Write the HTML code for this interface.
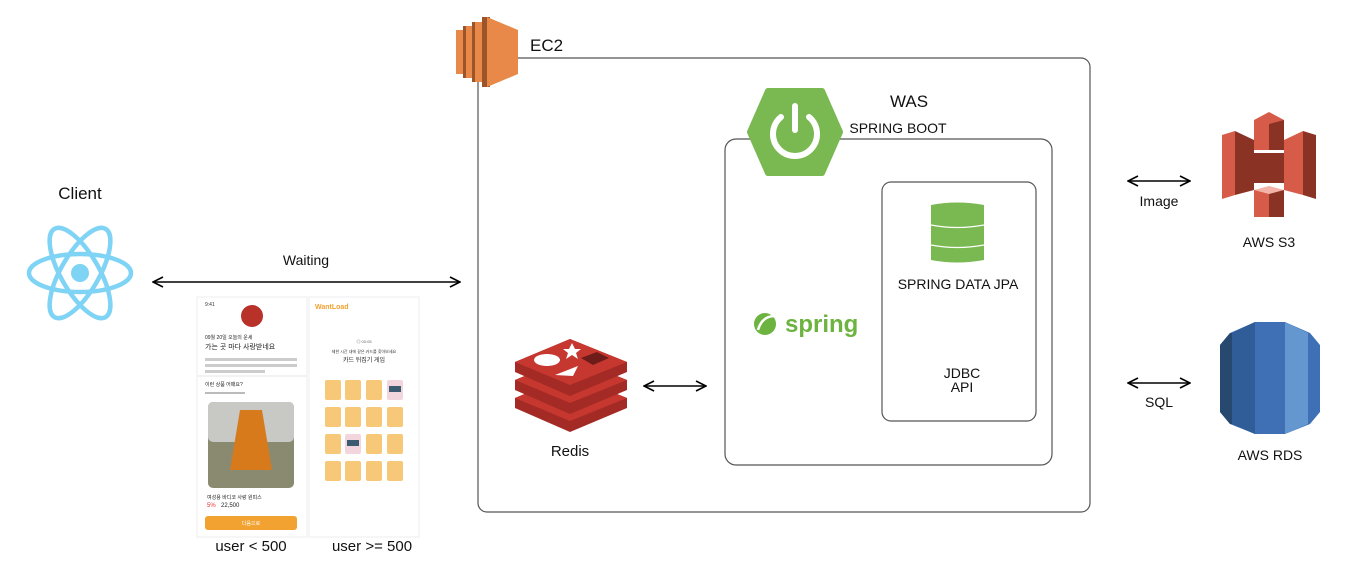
<!DOCTYPE html>
<html><head><meta charset="utf-8"><style>
html,body{margin:0;padding:0;background:#fff;}
svg{display:block;font-family:"Liberation Sans","Noto Sans CJK KR",sans-serif;}
</style></head><body>
<svg width="1358" height="572" viewBox="0 0 1358 572" xmlns="http://www.w3.org/2000/svg">
<defs>
<marker id="ah" viewBox="0 0 12 12" refX="11" refY="6" markerWidth="12" markerHeight="12" markerUnits="userSpaceOnUse" orient="auto-start-reverse"><path d="M1 1 L11 6 L1 11" fill="none" stroke="#000" stroke-width="1.6"/></marker>
</defs>
<!-- EC2 box -->
<rect x="478" y="58" width="612" height="454" rx="9" fill="none" stroke="#555" stroke-width="1.2"/>
<!-- EC2 icon -->
<g>
<rect x="456" y="30" width="10" height="44" fill="#e8894a"/>
<rect x="463" y="26" width="10" height="52" fill="#9c5429"/>
<rect x="466" y="26" width="8" height="52" fill="#e8894a"/>
<rect x="472" y="22" width="10" height="60" fill="#9c5429"/>
<rect x="475" y="22" width="8" height="60" fill="#e8894a"/>
<rect x="482" y="17" width="8" height="70" fill="#9c5429"/>
<polygon points="487,17 518,30 518,74 487,87" fill="#e8894a"/>
</g>
<text x="530" y="51" font-size="17" fill="#111">EC2</text>
<!-- WAS box -->
<rect x="725" y="139" width="327" height="326" rx="11" fill="#fff" stroke="#555" stroke-width="1.2"/>
<polygon points="768,91 822,91 840,132 822,173 768,173 750,132" fill="#7ab851" stroke="#7ab851" stroke-width="6" stroke-linejoin="round"/>
<path d="M781,117 A22,22 0 1 0 809,117" fill="none" stroke="#fff" stroke-width="6" stroke-linecap="round"/>
<line x1="795" y1="106" x2="795" y2="130" stroke="#fff" stroke-width="6" stroke-linecap="round"/>
<text x="909" y="107" font-size="17" text-anchor="middle" fill="#111">WAS</text>
<text x="898" y="133" font-size="14" text-anchor="middle" fill="#111">SPRING BOOT</text>
<!-- spring logo -->
<circle cx="765" cy="324" r="11" fill="#6db33f"/>
<path d="M758,330 Q762,316 775,316" stroke="#fff" stroke-width="2.5" fill="none"/>
<text x="785" y="332" font-size="24" fill="#6db33f" font-weight="bold">spring</text>
<!-- JPA box -->
<rect x="882" y="182" width="154" height="239" rx="9" fill="#fff" stroke="#555" stroke-width="1.2"/>
<path d="M931,205 Q957,200 984,205 L984,260 Q957,265 931,260 Z" fill="#7ab851"/>
<path d="M931,225 Q957,230 984,225 M931,245 Q957,250 984,245" stroke="#fff" stroke-width="1.2" fill="none"/>
<text x="958" y="289" font-size="14" text-anchor="middle" fill="#111">SPRING DATA JPA</text>
<text x="962" y="378" font-size="14" text-anchor="middle" fill="#111">JDBC</text>
<text x="962" y="392" font-size="14" text-anchor="middle" fill="#111">API</text>
<!-- Redis -->
<g>
<path d="M515,398 L570,375 L627,398 L627,408 L570,432 L515,408 Z" fill="#a32a25"/>
<path d="M515,398 L570,421 L627,398 L570,375 Z" fill="#c6372f"/>
<path d="M515,380 L570,357 L627,380 L627,390 L570,414 L515,390 Z" fill="#a32a25"/>
<path d="M515,380 L570,403 L627,380 L570,357 Z" fill="#c6372f"/>
<path d="M515,362 L570,339 L627,362 L627,372 L570,396 L515,372 Z" fill="#a32a25"/>
<path d="M515,362 L570,385 L627,362 L570,339 Z" fill="#c6372f"/>
<ellipse cx="547" cy="360" rx="13" ry="6" fill="#fff"/>
<polygon points="572,343 575,349 581,349 576,353 578,359 572,355 566,359 568,353 563,349 569,349" fill="#fff"/>
<polygon points="555,375 578,366 573,376" fill="#fff"/>
<polygon points="581,358 597,352 609,358 593,365" fill="#6d1c19"/>
</g>
<text x="570" y="456" font-size="15" text-anchor="middle" fill="#111">Redis</text>
<line x1="644" y1="386" x2="706" y2="386" stroke="#000" stroke-width="1.6" marker-start="url(#ah)" marker-end="url(#ah)"/>
<!-- Client -->
<text x="80" y="199" font-size="17" text-anchor="middle" fill="#111">Client</text>
<g fill="none" stroke="#7fd3f4" stroke-width="4.5">
<ellipse cx="80" cy="273" rx="51" ry="19"/>
<ellipse cx="80" cy="273" rx="51" ry="19" transform="rotate(60 80 273)"/>
<ellipse cx="80" cy="273" rx="51" ry="19" transform="rotate(-60 80 273)"/>
</g>
<circle cx="80" cy="273" r="9" fill="#7fd3f4"/>
<line x1="153" y1="282" x2="460" y2="282" stroke="#000" stroke-width="1.6" marker-start="url(#ah)" marker-end="url(#ah)"/>
<text x="306" y="265" font-size="14" text-anchor="middle" fill="#111">Waiting</text>
<!-- Screenshot left -->
<rect x="197" y="297" width="110" height="240" fill="#fff" stroke="#eee"/>
<text x="205" y="306" font-size="5" fill="#333">9:41</text>
<circle cx="252" cy="316" r="11" fill="#b8322a"/>
<text x="205" y="339" font-size="5" fill="#222">09월 20일 오늘의 운세</text>
<text x="205" y="349" font-size="7" fill="#222">가는 곳 마다 사랑받네요</text>
<rect x="205" y="358" width="92" height="3" fill="#ccc"/><rect x="205" y="364" width="92" height="3" fill="#ccc"/><rect x="205" y="370" width="60" height="3" fill="#ccc"/>
<rect x="197" y="375" width="110" height="2" fill="#f2f2f2"/>
<text x="205" y="386" font-size="5" fill="#222">이런 상품 어때요?</text>
<rect x="205" y="392" width="40" height="2" fill="#bbb"/>
<rect x="208" y="402" width="86" height="86" rx="5" fill="#8a8a70"/>
<rect x="208" y="402" width="86" height="40" rx="5" fill="#c8c8c4"/>
<path d="M240,410 L262,410 L272,470 L230,470 Z" fill="#d77a1c"/>
<text x="207" y="499" font-size="5" fill="#222">여성용 바디코 사랑 원피스</text>
<text x="207" y="507" font-size="6" fill="#e33">5%</text><text x="221" y="507" font-size="6" fill="#222">22,500</text>
<rect x="205" y="516" width="92" height="14" rx="3" fill="#f2a230"/>
<text x="251" y="525" font-size="5" fill="#fff" text-anchor="middle">다음으로</text>
<!-- Screenshot right -->
<rect x="309" y="297" width="110" height="240" fill="#fff" stroke="#eee"/>
<text x="315" y="309" font-size="7" font-weight="bold" fill="#f2a230">WantLoad</text>
<text x="364" y="343" font-size="4" fill="#666" text-anchor="middle">◎ 00:05</text>
<text x="364" y="353" font-size="4" fill="#333" text-anchor="middle">제한 시간 내에 같은 카드를 찾아보세요</text>
<text x="364" y="362" font-size="6" fill="#222" text-anchor="middle">카드 뒤집기 게임</text>
<g fill="#f7c877">
<rect x="325" y="380" width="16" height="20" rx="2"/><rect x="345" y="380" width="16" height="20" rx="2"/><rect x="366" y="380" width="16" height="20" rx="2"/><rect x="387" y="380" width="16" height="20" rx="2" fill="#f3d6dd"/>
<rect x="325" y="407" width="16" height="20" rx="2"/><rect x="345" y="407" width="16" height="20" rx="2"/><rect x="366" y="407" width="16" height="20" rx="2"/><rect x="387" y="407" width="16" height="20" rx="2"/>
<rect x="325" y="434" width="16" height="20" rx="2"/><rect x="345" y="434" width="16" height="20" rx="2" fill="#f3d6dd"/><rect x="366" y="434" width="16" height="20" rx="2"/><rect x="387" y="434" width="16" height="20" rx="2"/>
<rect x="325" y="461" width="16" height="20" rx="2"/><rect x="345" y="461" width="16" height="20" rx="2"/><rect x="366" y="461" width="16" height="20" rx="2"/><rect x="387" y="461" width="16" height="20" rx="2"/>
</g>
<rect x="389" y="386" width="12" height="6" fill="#3c5a70"/><rect x="347" y="440" width="12" height="6" fill="#3c5a70"/>
<text x="251" y="551" font-size="15" text-anchor="middle" fill="#111">user &lt; 500</text>
<text x="372" y="551" font-size="15" text-anchor="middle" fill="#111">user &gt;= 500</text>
<!-- S3 -->
<line x1="1128" y1="181" x2="1190" y2="181" stroke="#000" stroke-width="1.6" marker-start="url(#ah)" marker-end="url(#ah)"/>
<text x="1159" y="206" font-size="14" text-anchor="middle" fill="#111">Image</text>
<g>
<polygon points="1222,135 1235,131 1235,195 1222,199" fill="#d65c49"/>
<polygon points="1235,131 1254,140 1254,190 1235,195" fill="#8a3325"/>
<polygon points="1316,135 1303,131 1303,195 1316,199" fill="#8a3325"/>
<polygon points="1303,131 1284,140 1284,190 1303,195" fill="#d65c49"/>
<rect x="1254" y="120" width="15" height="30" fill="#d65c49"/><rect x="1269" y="120" width="15" height="30" fill="#8a3325"/>
<polygon points="1254,120 1269,112 1284,120 1269,124" fill="#d65c49"/>
<rect x="1254" y="153" width="15" height="30" fill="#8a3325"/><rect x="1269" y="153" width="15" height="30" fill="#8a3325"/>
<rect x="1254" y="190" width="15" height="27" fill="#d65c49"/><rect x="1269" y="190" width="15" height="27" fill="#8a3325"/>
<polygon points="1254,190 1269,186 1284,190 1269,194" fill="#f3b3a8"/>
</g>
<text x="1269" y="247" font-size="14" text-anchor="middle" fill="#111">AWS S3</text>
<!-- RDS -->
<line x1="1128" y1="383" x2="1190" y2="383" stroke="#000" stroke-width="1.6" marker-start="url(#ah)" marker-end="url(#ah)"/>
<text x="1159" y="407" font-size="14" text-anchor="middle" fill="#111">SQL</text>
<g>
<polygon points="1255,322 1285,322 1310,333 1320,345 1320,412 1310,424 1285,434 1255,434 1230,424 1220,412 1220,345 1230,333" fill="#3f6fb5"/>
<polygon points="1220,345 1230,333 1232,333 1232,424 1230,424 1220,412" fill="#27496f"/>
<polygon points="1232,333 1255,322 1255,434 1232,424" fill="#305d97"/>
<polygon points="1285,322 1308,333 1308,424 1285,434" fill="#6496d0"/>
</g>
<text x="1270" y="460" font-size="14" text-anchor="middle" fill="#111">AWS RDS</text>
</svg>
</body></html>
